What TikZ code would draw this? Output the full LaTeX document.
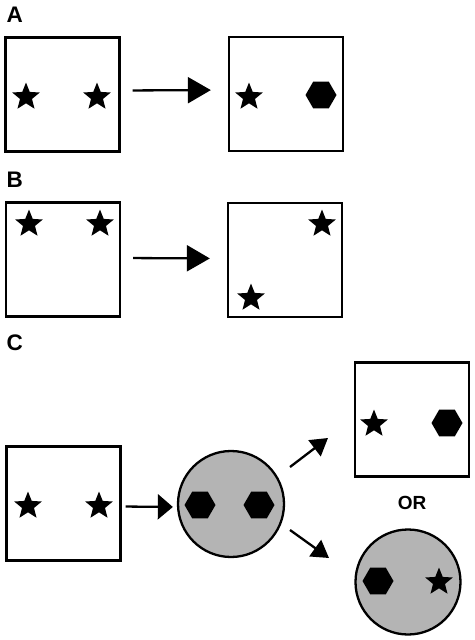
\documentclass[tikz,border=0pt]{standalone}
\usepackage{fontspec}
\setmainfont{Liberation Sans}
\usetikzlibrary{shapes.geometric,arrows.meta}
\definecolor{discgray}{RGB}{180,180,180}
\begin{document}
\begin{tikzpicture}[x=1pt,y=-1pt,
  panel/.style={draw=black,line width=2.3pt,minimum width=114pt,minimum height=114pt,inner sep=0pt,fill=white},
  disc/.style={circle,draw=black,line width=2.3pt,fill=discgray,inner sep=0pt},
  stargl/.style={star,star points=5,star point ratio=2.3,fill=black,draw=none,minimum size=29pt,inner sep=0pt},
  hexgl/.style={regular polygon,regular polygon sides=6,fill=black,draw=none,minimum size=31pt,inner sep=0pt},
  bigarrow/.style={line width=2.3pt,-{Triangle[length=23pt,width=26pt]}},
  midarrow/.style={line width=2.3pt,-{Triangle[length=15pt,width=25pt]}},
  diagarrow/.style={line width=2.3pt,-{Triangle[length=17pt,width=20pt]}},
  panellabel/.style={font=\fontsize{22.5}{24}\selectfont\bfseries,anchor=base west,inner sep=0pt},
  orlabel/.style={font=\fontsize{19}{20}\selectfont\bfseries,anchor=base,inner sep=0pt}
]
\useasboundingbox[fill=white] (0,0) rectangle (474,640);

% labels
\node[panellabel] (la) at (6.5,22) {A};
\node[panellabel] (lb) at (6.5,187) {B};
\node[panellabel] (lc) at (6.5,350) {C};

% Row A
\node[panel] (a1) at (62.5,94.5) {};
\node[panel] (a2) at (286,94) {};
\node[stargl] (a1s1) at (26,97) {};
\node[stargl] (a1s2) at (97,97) {};
\node[stargl] (a2s1) at (249,97) {};
\node[hexgl] (a2h1) at (321,95) {};
\draw[bigarrow,shorten <=12pt,shorten >=17pt] ([yshift=4pt]a1.east) -- ([yshift=4pt]a2.west);

% Row B
\node[panel] (b1) at (63,259.5) {};
\node[panel] (b2) at (285,260) {};
\node[stargl] (b1s1) at (29,224) {};
\node[stargl] (b1s2) at (100,224) {};
\node[stargl] (b2s1) at (322,224) {};
\node[stargl] (b2s2) at (251,298) {};
\draw[bigarrow,shorten <=12pt,shorten >=17pt] ([yshift=1.5pt]b1.east) -- ([yshift=1.5pt]b2.west);

% Row C
\node[panel] (c1) at (63.5,503.5) {};
\node[stargl] (c1s1) at (28,506) {};
\node[stargl] (c1s2) at (99,506) {};

\node[disc,minimum size=106pt] (c2) at (231,504) {};
\node[hexgl] (c2h1) at (200,505) {};
\node[hexgl] (c2h2) at (259,505) {};
\draw[midarrow,shorten <=4pt,shorten >=4pt] ([yshift=-3pt]c1.east) -- ([yshift=-3pt]c2.west);

\node[panel] (c3) at (412,419.5) {};
\node[stargl] (c3s1) at (374,424) {};
\node[hexgl] (c3h1) at (447,423) {};

\node[orlabel] (or) at (412,509) {OR};

\node[disc,minimum size=105pt] (c4) at (408,582) {};
\node[hexgl] (c4h1) at (378,581) {};
\node[stargl] (c4s1) at (439,582) {};

\coordinate (up1) at (290,467);
\coordinate (up2) at (328,438);
\coordinate (dn1) at (290,530);
\coordinate (dn2) at (329,558);
\draw[diagarrow] (up1) -- (up2);
\draw[diagarrow] (dn1) -- (dn2);
\end{tikzpicture}
\end{document}
